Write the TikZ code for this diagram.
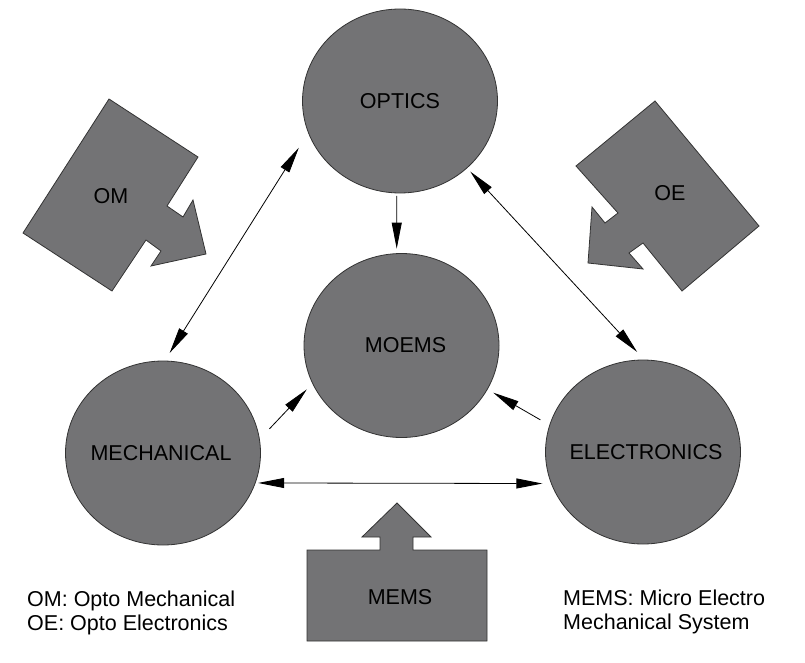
\documentclass[tikz,border=0pt]{standalone}
\usepackage{fontspec}
\setmainfont{Liberation Sans}
\usetikzlibrary{arrows.meta, shapes.geometric}
\definecolor{blobgray}{HTML}{737375}

\begin{document}
\begin{tikzpicture}[x=1pt, y=-1pt,
    >={Triangle[length=26pt, width=10pt]},
    txt/.style={font=\fontsize{21.5}{24}\selectfont, inner sep=0pt},
    blob/.style={ellipse, draw=black!80, line width=0.8pt, fill=blobgray,
      minimum width=195pt, minimum height=184pt, inner sep=0pt, outer sep=0pt},
    block/.style={draw=black!80, line width=0.8pt, fill=blobgray},
    link/.style={line width=0.8pt}]
  \useasboundingbox (0,0) rectangle (805,663);
  % Disciplines
  \node[blob, label={[txt]center:OPTICS}] (optics) at (400,101) {};
  \node[blob, label={[txt, xshift=4pt]center:MOEMS}] (moems) at (401.5,345.5) {};
  \node[blob, label={[txt, xshift=-2pt]center:MECHANICAL}] (mech) at (163,453) {};
  \node[blob, label={[txt, xshift=3pt]center:ELECTRONICS}] (elec) at (643,452) {};
  % Links
  \draw[link, <->, shorten <=18pt, shorten >=9.5pt] (optics.199) -- (mech.89);
  \draw[link, <->, shorten <=5pt, shorten >=11pt] (optics.-45) -- (elec.89);
  \draw[link, ->, shorten <=3pt, shorten >=5pt] (optics.268) -- (moems.93);
  \draw[link, ->, shorten <=14.6pt, shorten >=8.4pt] (mech.8) -- (moems.203);
  \draw[link, ->, shorten <=10.8pt, shorten >=6.9pt] (elec.164) -- (moems.-27);
  \draw[link, <->, shorten <=3pt, shorten >=9pt] (mech.-18) -- (elec.199);
  % OM block
  \draw[block] (109,99) -- (198,157) -- (167,206) -- (183,217) -- (193,200)
    -- (206,254) -- (151,266) -- (161,251) -- (146,240) -- (112,291) -- (23,233) -- cycle;
  \node[txt] (om) at (111,196) {OM};
  % OE block
  \draw[block] (655,101) -- (759,226) -- (682,291) -- (643,243) -- (629,253)
    -- (643,269) -- (588,263) -- (592,207) -- (605,223) -- (618,213) -- (576,166) -- cycle;
  \node[txt] (oe) at (670,193) {OE};
  % MEMS block
  \draw[block] (307,550) -- (380,550) -- (380,537) -- (362,537) -- (397,503) -- (431,537)
    -- (413,537) -- (413,550) -- (487,550) -- (487,641) -- (307,641) -- cycle;
  \node[txt] (mems) at (400,597) {MEMS};
  % Key
  \node[txt, anchor=north west, align=left] (key-left) at (27,590.5)
    {OM: Opto Mechanical\\OE: Opto Electronics};
  \node[txt, anchor=north west, align=left] (key-right) at (563,589.5)
    {MEMS: Micro Electro\\Mechanical System};
\end{tikzpicture}
\end{document}
